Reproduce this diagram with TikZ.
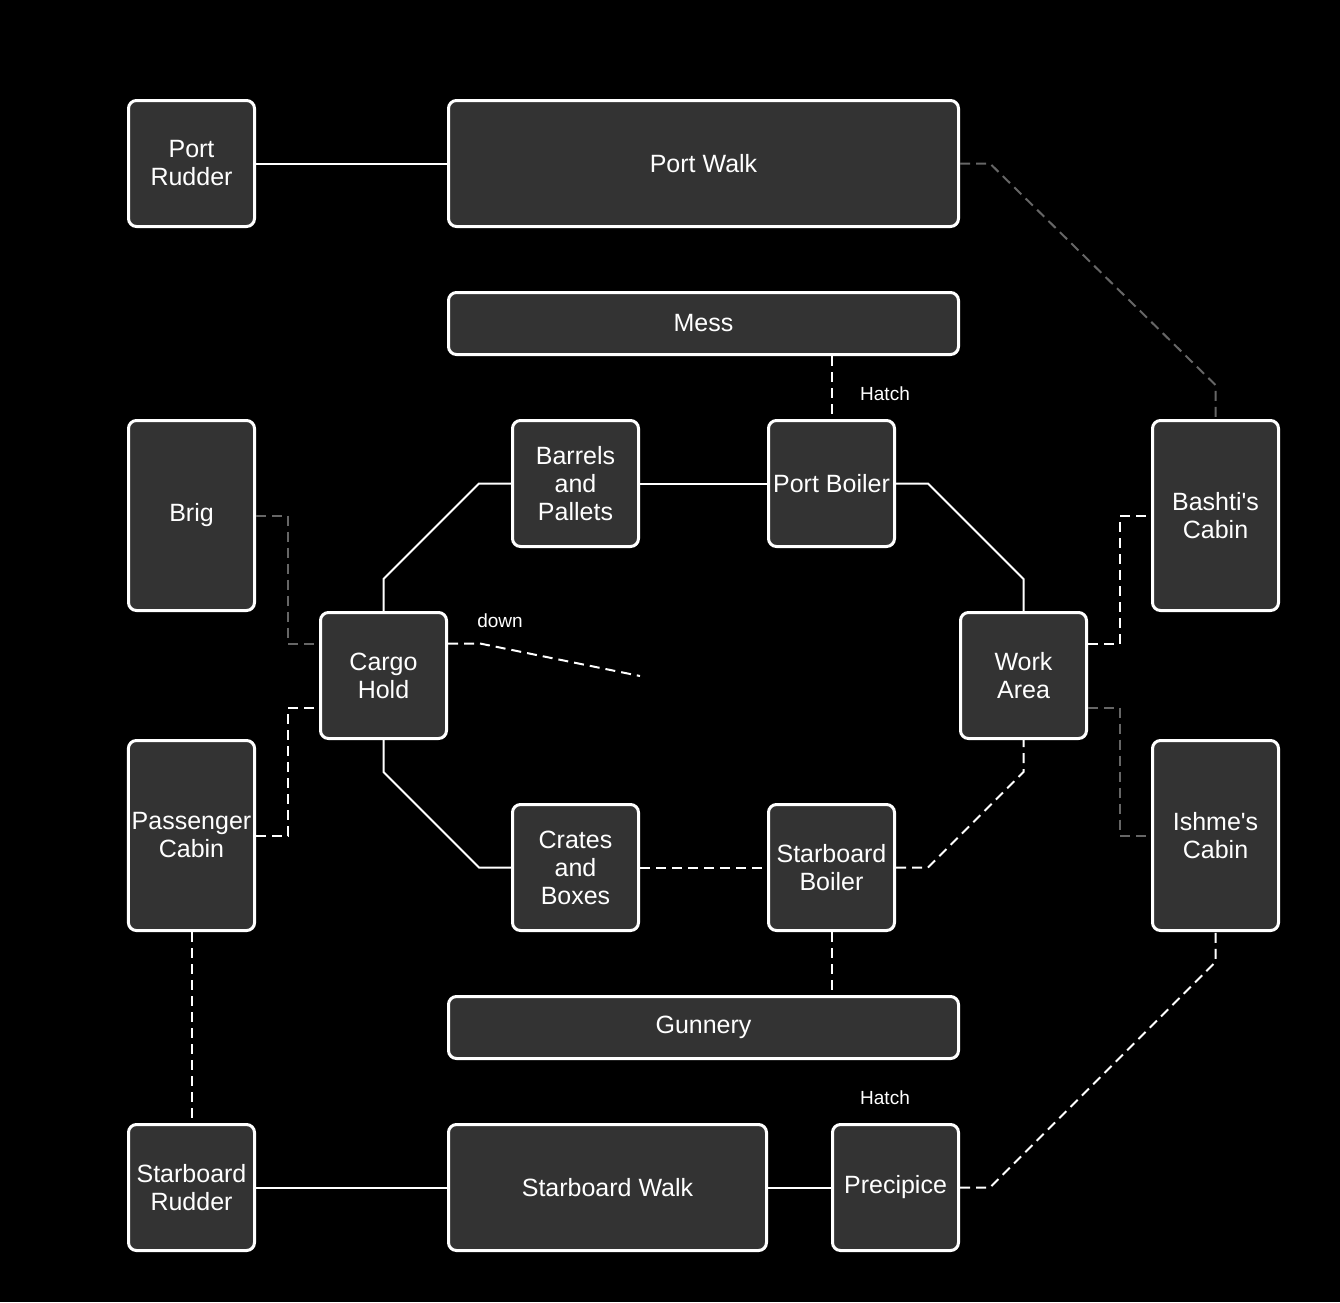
\documentclass[tikz,border=0pt]{standalone}
\usepackage{fontspec}
\setmainfont{Liberation Sans}
\usetikzlibrary{positioning, calc}
\definecolor{roomcol}{RGB}{51,51,51}
\definecolor{faintcol}{RGB}{102,102,102}

\begin{document}
\begin{tikzpicture}[
			x=1pt,
			y=1pt,
			room/.style={
				draw=white,
				rectangle,
				rounded corners=8pt,
				line width=3pt,
				fill=roomcol,
				text=white,
				align=center,
				minimum width=126pt,
				minimum height=126pt,
				font=\fontsize{25}{28}\selectfont
			},
			lbl/.style={
				text=white,
				font=\fontsize{19}{22}\selectfont
			},
			passage/.style={
				draw=white,
				line width=2pt
			},
			door/.style={
				passage,
				dash pattern=on 10pt off 6pt
			},
			faint/.style={
				door,
				draw=faintcol
			}
			]
			% Background
			\fill[black] (0,0) rectangle (1340,-1302);
			
			% Rooms
			\node[room] (prud) at (191.5,-163.5) {Port\\Rudder};
			\node[room, minimum width=510pt] (pwalk) at (703.5,-163.5) {Port Walk};
			\node[room, minimum width=510pt, minimum height=62pt] (mess) at (703.5,-323.5) {Mess};
			\node[room, minimum height=190pt] (brig) at (191.5,-515.5) {Brig};
			\node[room] (barrels) at (575.5,-483.5) {Barrels\\and\\Pallets};
			\node[room] (pboil) at (831.5,-483.5) {Port Boiler};
			\node[room, minimum height=190pt] (bashti) at (1215.5,-515.5) {Bashti\textquotesingle s\\Cabin};
			\node[room] (cargo) at (383.5,-675.5) {Cargo\\Hold};
			\node[room] (work) at (1023.5,-675.5) {Work\\Area};
			\node[room, minimum height=190pt] (passenger) at (191.5,-835.5) {Passenger\\Cabin};
			\node[room, minimum height=190pt] (ishme) at (1215.5,-835.5) {Ishme\textquotesingle s\\Cabin};
			\node[room] (crates) at (575.5,-867.5) {Crates\\and\\Boxes};
			\node[room] (sboil) at (831.5,-867.5) {Starboard\\Boiler};
			\node[room, minimum width=510pt, minimum height=62pt] (gunnery) at (703.5,-1027.5) {Gunnery};
			\node[room] (srud) at (191.5,-1187.5) {Starboard\\Rudder};
			\node[room, minimum width=318pt] (swalk) at (607.5,-1187.5) {Starboard Walk};
			\node[room] (precipice) at (895.5,-1187.5) {Precipice};
			
			% Labels
			\node[lbl] (hatchtop) at (885,-394) {Hatch};
			\node[lbl] (hatchbot) at (885,-1098) {Hatch};
			\node[lbl] (downlbl) at (500,-621) {down};
			\coordinate (below) at (640,-676);
			
			% Passages
			\draw[passage] (prud.east) -- (pwalk.west);
			\draw[passage] (barrels.east) -- (pboil.west);
			\draw[passage] (cargo.north) -- ++(0,32) -- ([xshift=-32pt]barrels.west) -- (barrels.west);
			\draw[passage] (pboil.east) -- ++(32,0) -- ([yshift=32pt]work.north) -- (work.north);
			\draw[passage] (cargo.south) -- ++(0,-32) -- ([xshift=-32pt]crates.west) -- (crates.west);
			\draw[passage] (srud.east) -- (swalk.west);
			\draw[passage] (swalk.east) -- (precipice.west);
			
			% Doors
			\draw[door] (mess.south -| pboil.north) -- (pboil.north);
			\draw[door] ([yshift=32pt]cargo.east) -- ++(32,0) -- (below);
			\draw[door] (passenger.east) -- ++(32,0) |- ([yshift=-32pt]cargo.west);
			\draw[door] ([yshift=32pt]work.east) -- ++(32,0) |- (bashti.west);
			\draw[door] (crates.east) -- (sboil.west);
			\draw[door] (sboil.east) -- ++(32,0) -- ([yshift=-32pt]work.south) -- (work.south);
			\draw[door] (sboil.south) -- (sboil.south |- gunnery.north);
			\draw[door] (passenger.south) -- (srud.north);
			\draw[door] (precipice.east) -- ++(30,0) -- (1215.5,-962) -- (ishme.south);
			
			% Hidden doors
			\draw[faint] (pwalk.east) -- ++(30,0) -- (1215.5,-385) -- (bashti.north);
			\draw[faint] (brig.east) -- ++(32,0) |- ([yshift=32pt]cargo.west);
			\draw[faint] ([yshift=-32pt]work.east) -- ++(32,0) |- (ishme.west);
		\end{tikzpicture}
\end{document}
